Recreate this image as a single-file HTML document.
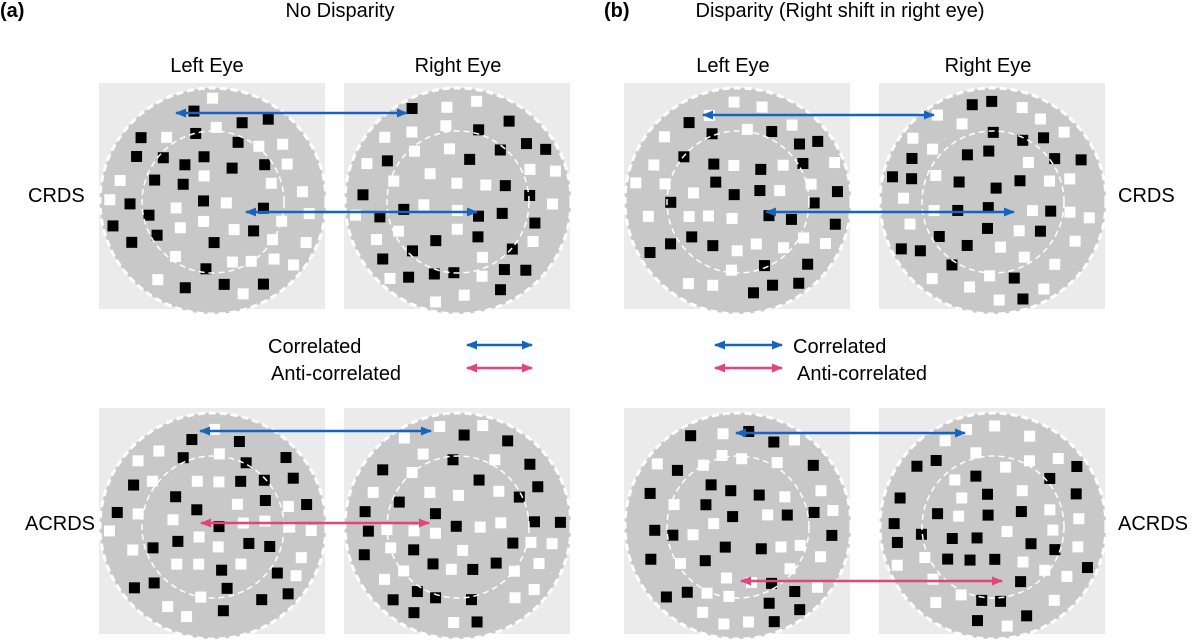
<!DOCTYPE html>
<html><head><meta charset="utf-8"><style>
body{margin:0;background:#fff;}
svg{display:block;font-family:"Liberation Sans",sans-serif;}
</style></head><body>
<svg id="s" width="1200" height="642" viewBox="0 0 1200 642">
<defs>
<marker id="ab" viewBox="0 0 10 10" refX="9" refY="5" markerWidth="4.5" markerHeight="4.5" orient="auto-start-reverse"><path d="M0,1 L10,5 L0,9 z" fill="#1565c0"/></marker>
<marker id="ap" viewBox="0 0 10 10" refX="9" refY="5" markerWidth="4.5" markerHeight="4.5" orient="auto-start-reverse"><path d="M0,1 L10,5 L0,9 z" fill="#e0457b"/></marker>
</defs>
<g id="panels"></g>
<g font-size="20" fill="#000">
<text x="0" y="17" font-weight="bold">(a)</text>
<text x="340" y="17" text-anchor="middle">No Disparity</text>
<text x="604" y="17" font-weight="bold">(b)</text>
<text x="840" y="17" text-anchor="middle">Disparity (Right shift in right eye)</text>
<text x="207" y="72" text-anchor="middle">Left Eye</text>
<text x="458" y="72" text-anchor="middle">Right Eye</text>
<text x="733" y="72" text-anchor="middle">Left Eye</text>
<text x="988" y="72" text-anchor="middle">Right Eye</text>
<text x="28" y="202">CRDS</text>
<text x="1118" y="202">CRDS</text>
<text x="25" y="530">ACRDS</text>
<text x="1118" y="530">ACRDS</text>
<text x="268" y="353">Correlated</text>
<text x="271" y="380">Anti-correlated</text>
<text x="793" y="353">Correlated</text>
<text x="797" y="380">Anti-correlated</text>
</g>
<g id="arrows" stroke-width="2.5" fill="none">
<line x1="467" y1="345" x2="532" y2="345" stroke="#1565c0" marker-start="url(#ab)" marker-end="url(#ab)"/>
<line x1="467" y1="368" x2="532" y2="368" stroke="#e0457b" marker-start="url(#ap)" marker-end="url(#ap)"/>
<line x1="715" y1="345" x2="782" y2="345" stroke="#1565c0" marker-start="url(#ab)" marker-end="url(#ab)"/>
<line x1="715" y1="368" x2="782" y2="368" stroke="#e0457b" marker-start="url(#ap)" marker-end="url(#ap)"/>
</g>
</svg>
<script>
var NS="http://www.w3.org/2000/svg";
var P=document.getElementById("panels");
var seed=7;function rnd(){seed=(seed*16807)%2147483647;return seed/2147483647;}
function el(n,a){var e=document.createElementNS(NS,n);for(var k in a)e.setAttribute(k,a[k]);P.appendChild(e);return e;}
function panel(cx,cy){
 el("rect",{x:cx-114,y:cy-115,width:226,height:226,fill:"#ebebeb"});
 el("circle",{cx:cx,cy:cy+3,r:113,fill:"#c8c8c8",stroke:"#fff","stroke-width":3,"stroke-dasharray":"7 4"});
 var pts=[];var tries=0;
 while(pts.length<54&&tries<5000){tries++;
  var x=cx-110+rnd()*220,y=cy+3-110+rnd()*220;
  if((x-cx)*(x-cx)+(y-cy-3)*(y-cy-3)>104*104)continue;
  var ok=true;for(var i=0;i<pts.length;i++){if(Math.abs(pts[i][0]-x)<18&&Math.abs(pts[i][1]-y)<18){ok=false;break;}}
  if(!ok)continue;pts.push([x,y]);
 }
 pts.forEach(function(p,i){el("rect",{x:p[0]-5.5,y:p[1]-5.5,width:11,height:11,fill:(i%2?"#000":"#fff")});});
 el("circle",{cx:cx,cy:cy+4,r:71,fill:"none",stroke:"#fff","stroke-width":1.5,"stroke-dasharray":"6 4"});
}
[[213,198],[458,198],[738,198],[993,198],[213,523],[458,523],[738,523],[993,523]].forEach(function(c){panel(c[0],c[1]);});
var A=document.getElementById("arrows");
function arr(x1,y,x2,pink){var l=document.createElementNS(NS,"line");
 l.setAttribute("x1",x1);l.setAttribute("x2",x2);l.setAttribute("y1",y);l.setAttribute("y2",y);
 l.setAttribute("stroke",pink?"#e0457b":"#1565c0");var m=pink?"url(#ap)":"url(#ab)";
 l.setAttribute("marker-start",m);l.setAttribute("marker-end",m);A.appendChild(l);}
arr(176,113,407,0);arr(246,212,477,0);
arr(703,115,934,0);arr(766,212,1014,0);
arr(200,431,431,0);arr(201,523,429,1);
arr(736,433,965,0);arr(741,581,1002,1);
</script>
</body></html>
